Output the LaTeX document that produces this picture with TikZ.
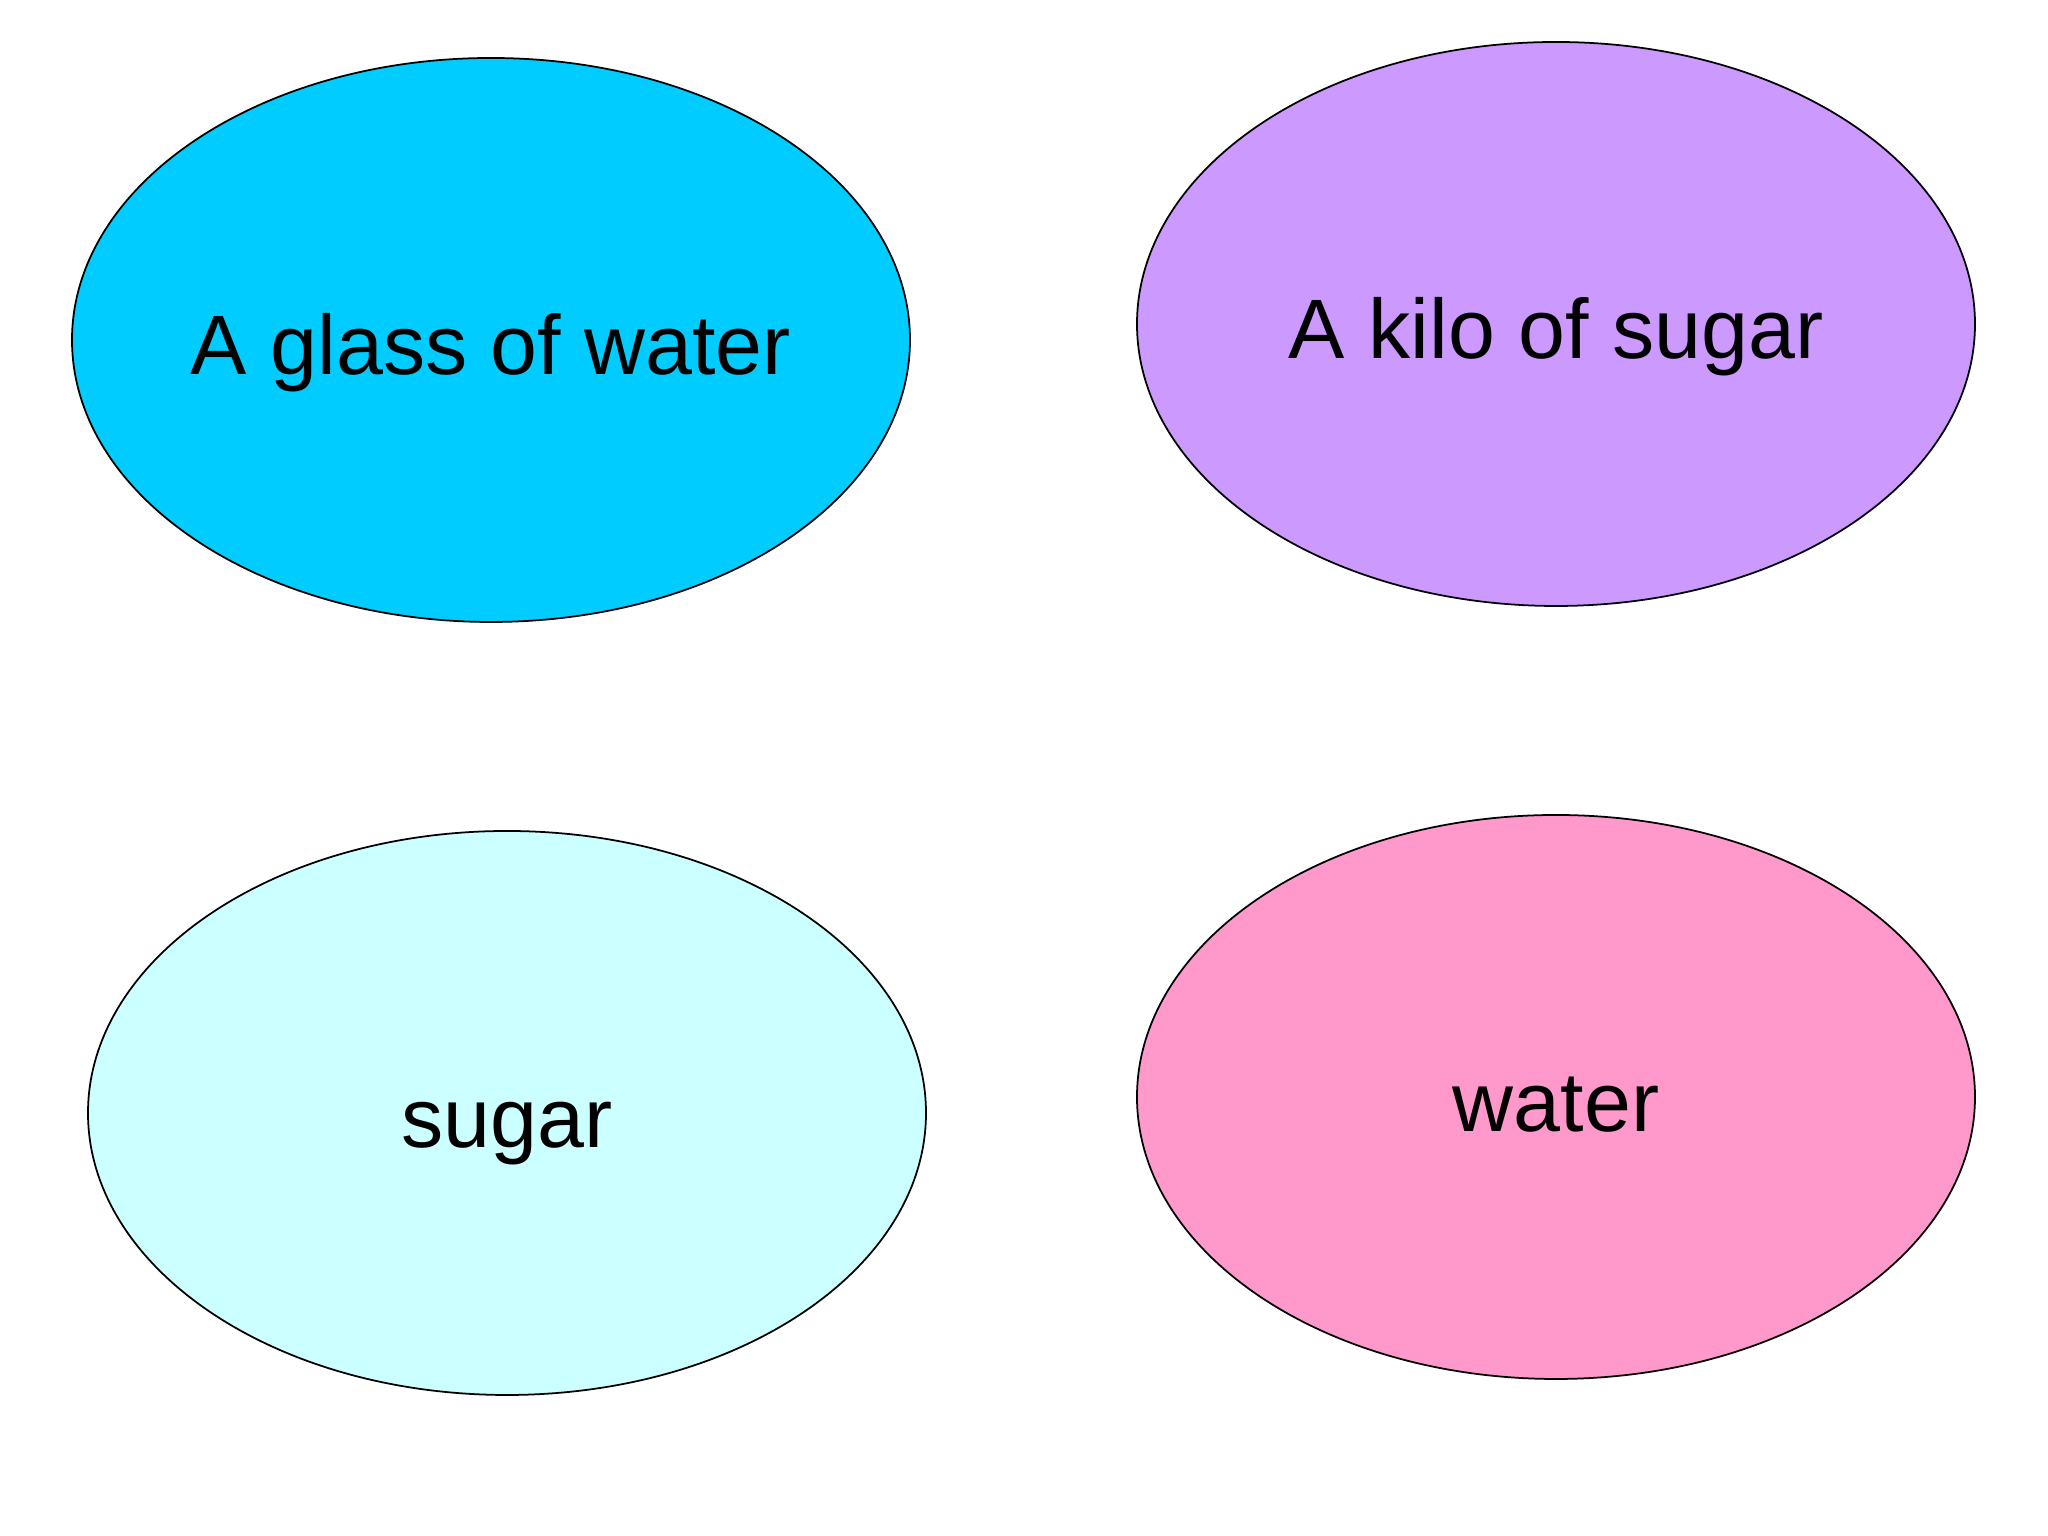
\documentclass[tikz,border=0pt]{standalone}
\usepackage{fontspec}
\setmainfont{Liberation Sans}
\usetikzlibrary{shapes.geometric}
\definecolor{glassblue}{HTML}{00CCFF}
\definecolor{kilopurple}{HTML}{CC99FF}
\definecolor{sugarcyan}{HTML}{CCFFFF}
\definecolor{waterpink}{HTML}{FF99CC}
\newcommand{\blobtext}[1]{\raisebox{-0.35cm}[0pt][0pt]{\makebox[0pt][c]{#1}}}
\tikzset{blob/.style={ellipse,draw=black,line width=0.5pt,
    minimum width=8.38cm,minimum height=5.64cm,inner sep=0pt,
    font=\fontsize{24}{28}\selectfont}}
\begin{document}
\begin{tikzpicture}
    \useasboundingbox (0,0) rectangle (20.48,15.36);
    \node[blob,fill=glassblue] (glass) at (4.91,11.96) {\blobtext{A glass of water}};
    \node[blob,fill=kilopurple] (kilo) at (15.56,12.12) {\blobtext{A kilo of sugar}};
    \node[blob,fill=sugarcyan] (sugar) at (5.07,4.23) {\blobtext{sugar}};
    \node[blob,fill=waterpink] (water) at (15.56,4.39) {\blobtext{water}};
  \end{tikzpicture}
\end{document}
